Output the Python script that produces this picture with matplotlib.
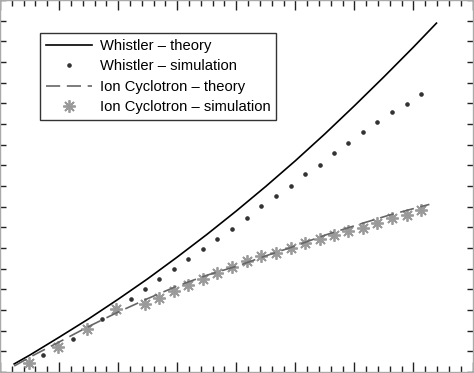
import numpy as np
import matplotlib.pyplot as plt
from matplotlib.ticker import MultipleLocator

# whistler theory curve
wt_x = [0.24, 0.5, 1.0, 1.5, 2.0, 2.5, 3.0, 3.5, 4.0, 4.5, 5.0, 5.5, 6.0, 6.5, 7.0, 7.39]
wt_y = [0.39, 0.81, 1.68, 2.57, 3.52, 4.51, 5.56, 6.65, 7.79, 8.98, 10.22, 11.52,
        12.88, 14.28, 15.72, 16.88]

# whistler simulation
ws_x = [0.73, 1.23, 1.72, 2.21, 2.45, 2.70, 2.95, 3.19, 3.44, 3.68, 3.93, 4.18,
        4.42, 4.67, 4.92, 5.17, 5.41, 5.66, 5.90, 6.15, 6.39, 6.64, 6.89, 7.13]
ws_y = [0.81, 1.61, 2.58, 3.55, 4.00, 4.48, 4.98, 5.47, 5.95, 6.42, 6.90, 7.47,
        8.03, 8.51, 9.02, 9.56, 10.03, 10.58, 11.06, 11.63, 12.11, 12.59, 12.98, 13.46]

# ion cyclotron theory
it_x = [0.24, 0.56, 1.0, 1.5, 2.0, 2.5, 3.0, 3.5, 4.02, 4.5, 4.92, 5.5, 6.05, 6.6, 7.27]
it_y = [0.29, 0.80, 1.45, 2.20, 2.90, 3.55, 4.16, 4.68, 5.13, 5.62, 6.02, 6.62,
        7.12, 7.60, 8.11]

# ion cyclotron simulation
is_x = [0.49, 0.98, 1.47, 1.97, 2.46, 2.70, 2.95, 3.19, 3.44, 3.68, 3.93, 4.18,
        4.42, 4.67, 4.92, 5.17, 5.41, 5.66, 5.90, 6.15, 6.39, 6.64, 6.89, 7.13]
is_y = [0.42, 1.21, 2.06, 3.03, 3.31, 3.60, 3.92, 4.19, 4.48, 4.77, 5.08, 5.38,
        5.61, 5.77, 6.01, 6.26, 6.42, 6.64, 6.81, 6.98, 7.22, 7.45, 7.60, 7.84]

plt.rcParams['font.family'] = ['Liberation Sans', 'DejaVu Sans']

fig = plt.figure(figsize=(4.74, 3.73), dpi=100)
ax = fig.add_axes([0.0, 1.0 / 373, 472.5 / 474, 372.0 / 373])

ax.plot(wt_x, wt_y, color='black', lw=1.2, label='Whistler \u2013 theory')
ax.plot(ws_x, ws_y, ls='none', marker='o', ms=2.3, color='#333333',
        label='Whistler \u2013 simulation')
ax.plot(is_x, is_y, ls='none', marker=(8, 2, 0), ms=9, mew=1.3,
        color='#9a9a9a', label='Ion Cyclotron \u2013 simulation')
ax.plot(it_x, it_y, color='#666666', lw=1.2, dashes=(8.5, 4), zorder=3,
        label='Ion Cyclotron \u2013 theory')

ax.set_xlim(0, 8)
ax.set_ylim(0, 18)
ax.xaxis.set_major_locator(MultipleLocator(1))
ax.xaxis.set_minor_locator(MultipleLocator(0.2))
ax.yaxis.set_major_locator(MultipleLocator(1))
ax.tick_params(which='both', direction='in', top=True, right=True,
               labelbottom=False, labelleft=False, width=1, color='#222222')
ax.tick_params(which='major', length=7)
ax.tick_params(axis='y', which='major', length=4)
ax.tick_params(which='minor', length=4)
for s in ax.spines.values():
    s.set_color('#aaaaaa')
    s.set_linewidth(1)

# legend order as in the original
h, l = ax.get_legend_handles_labels()
order = [0, 1, 3, 2]
leg = ax.legend([h[i] for i in order], [l[i] for i in order],
                loc='upper left', bbox_to_anchor=(40 / 472.5, 1 - 33 / 372),
                fontsize=10.6, frameon=True, fancybox=False, edgecolor='black',
                borderaxespad=0, handlelength=3.1, handletextpad=0.55,
                labelspacing=0.44, borderpad=0.4)
leg.get_frame().set_linewidth(1)

fig.savefig('out.png', dpi=100)
